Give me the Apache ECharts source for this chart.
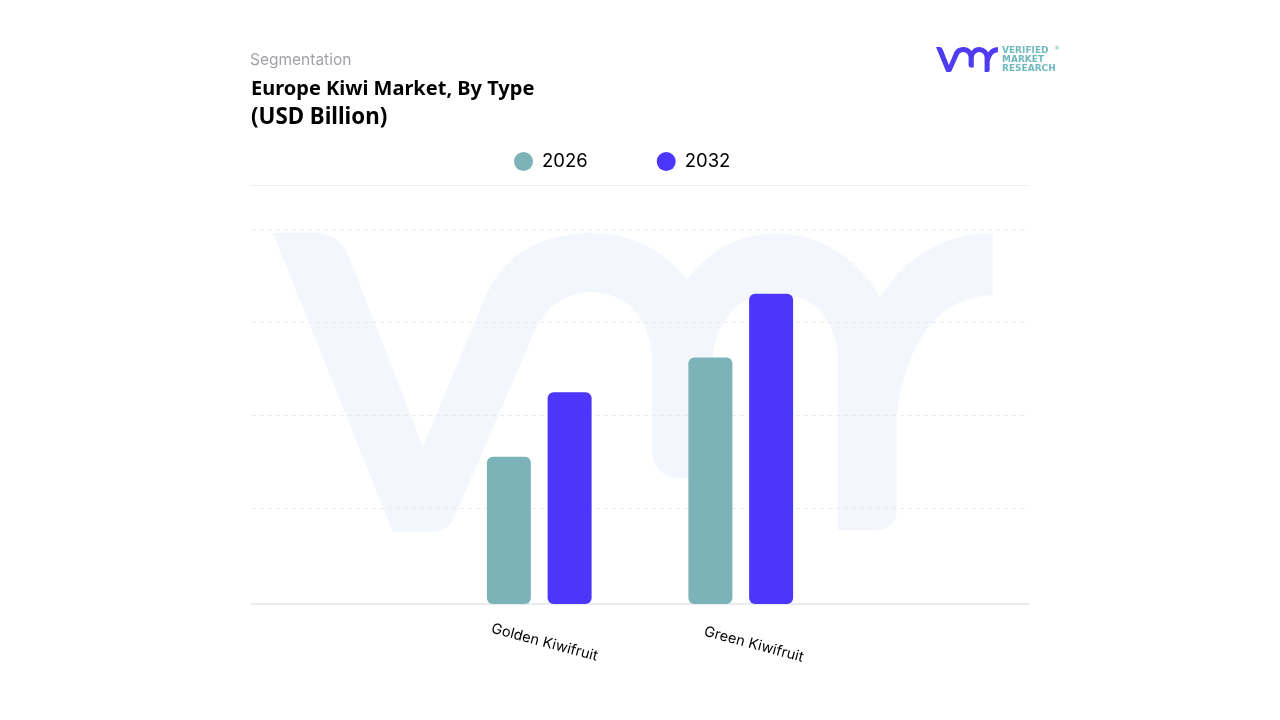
<!DOCTYPE html>
<html>
<head>
<meta charset="utf-8">
<title>Europe Kiwi Market, By Type</title>
<style>
html,body{margin:0;padding:0;background:#fff;}
#J_Main{width:1280px;height:720px;}
</style>
<script src="https://cdn.jsdelivr.net/npm/echarts@6/dist/echarts.min.js"></script>
</head>
<body>
<div id="J_Main"></div>
<script>
var categories = ["Golden Kiwifruit", "Green Kiwifruit"];
var years = ["2026", "2032"];
var values2026 = [1.57, 2.63];
var values2032 = [2.26, 3.31];
var logoLines = ["VERIFIED", "MARKET", "RESEARCH"];

// vmr mark, used big as the watermark and small as the logo
var vmrPath = "M273 233 L318 233 Q342 235 351 262 L423 447 L487 293 Q515 235 590 233 Q650 233 687 280 Q720 235 775 233 Q842 235 880 297 Q920 235 993 233 L993 295 Q925 298 903 382 Q897 400 897 420 L897 508 Q897 530 875 530 L838 530 L838 355 Q832 296 775 292 Q725 296 713 350 L712 478 L680 478 Q652 476 652 450 L652 355 Q645 294 590 292 Q552 294 535 330 L453 520 Q447 532 430 532 L393 532 Z";
echarts.graphic.registerShape("vmrMark", echarts.graphic.extendPath(vmrPath, {}));

var labelStyle = {color: "#000", fontSize: 14.5, fontFamily: "Inter"};

var myChart = echarts.init(document.getElementById("J_Main"));
var option = {
    animation: false,
    backgroundColor: "#fff",
    title: [{
        text: "Segmentation",
        left: 245,
        top: 47,
        textStyle: {color: "#a0a2a8", fontSize: 15.5, fontWeight: "normal", fontFamily: "Inter"}
    }, {
        text: "{a|Europe Kiwi Market, By Type}\n{b|(USD Billion)}",
        left: 246,
        top: 70,
        textStyle: {
            rich: {
                a: {color: "#000", fontSize: 20, fontWeight: "bold", fontFamily: "Noto Sans", lineHeight: 29},
                b: {color: "#000", fontSize: 22.3, fontWeight: "bold", fontFamily: "Noto Sans", lineHeight: 27}
            }
        }
    }],
    legend: {
        left: 514,
        top: 152,
        padding: 0,
        itemWidth: 19,
        itemHeight: 19,
        itemGap: 69,
        icon: "circle",
        data: years,
        textStyle: {color: "#000", fontSize: 18.5, fontFamily: "Inter", padding: [0, 0, 0, 4]}
    },
    grid: [
        {left: 252, width: 777, top: 229, height: 372},
        {left: 438.5, width: 403, top: 229, height: 375},
        {left: 252, width: 777, top: 229, height: 375}
    ],
    xAxis: [{
        gridIndex: 0,
        type: "category",
        data: [],
        axisLine: {show: false},
        axisTick: {show: false},
        axisLabel: {show: false}
    }, {
        gridIndex: 1,
        type: "category",
        data: categories,
        axisLine: {show: false},
        axisTick: {show: false},
        axisLabel: {
            rotate: -15,
            align: "center",
            verticalAlign: "middle",
            margin: 37,
            formatter: function(value, index){
                return "{c" + index + "|" + value + "}";
            },
            // left padding pushes each label along its slant
            rich: {
                c0: Object.assign({padding: [0, 0, 0, 11]}, labelStyle),
                c1: Object.assign({padding: [0, 0, 0, 27]}, labelStyle)
            }
        }
    }, {
        gridIndex: 2,
        type: "category",
        data: [],
        axisLine: {lineStyle: {color: "#e9ecef", width: 2}},
        axisTick: {show: false},
        axisLabel: {show: false}
    }],
    yAxis: [{
        gridIndex: 0,
        type: "value",
        min: 0,
        max: 4,
        interval: 1,
        axisLine: {show: false},
        axisTick: {show: false},
        axisLabel: {show: false},
        splitLine: {
            showMinLine: false,
            lineStyle: {color: "#eaebef", type: [4, 4], width: 1}
        }
    }, {
        gridIndex: 1,
        type: "value",
        min: 0,
        max: 4,
        show: false,
        splitLine: {show: false}
    }, {
        gridIndex: 2,
        type: "value",
        min: 0,
        max: 4,
        show: false,
        splitLine: {show: false}
    }],
    series: [{
        name: years[0],
        type: "bar",
        xAxisIndex: 1,
        yAxisIndex: 1,
        data: values2026,
        barWidth: 44,
        barGap: "38%",
        itemStyle: {color: "#7bb3b8", borderRadius: 6}
    }, {
        name: years[1],
        type: "bar",
        xAxisIndex: 1,
        yAxisIndex: 1,
        data: values2032,
        barWidth: 44,
        itemStyle: {color: "#4c36fc", borderRadius: 6}
    }],
    graphic: [{
        type: "vmrMark",
        z: -10,
        silent: true,
        style: {fill: "#f4f6fd"}
    }, {
        type: "vmrMark",
        silent: true,
        x: 936 - 273 * 0.086,
        y: 47 - 233 * 0.084,
        scaleX: 0.086,
        scaleY: 0.084,
        style: {fill: "#4f3bf0"}
    }, {
        type: "line",
        silent: true,
        shape: {x1: 250, y1: 185.5, x2: 1029, y2: 185.5},
        style: {stroke: "#eeeff2", lineWidth: 1}
    }, {
        type: "text", silent: true, x: 1002, y: 46.5,
        style: {text: logoLines[0], fill: "#6fb9bd", font: "bold 9px 'DejaVu Sans'"}
    }, {
        type: "text", silent: true, x: 1002, y: 55.5,
        style: {text: logoLines[1], fill: "#6fb9bd", font: "bold 9px 'DejaVu Sans'"}
    }, {
        type: "text", silent: true, x: 1002, y: 64.5,
        style: {text: logoLines[2], fill: "#6fb9bd", font: "bold 9px 'DejaVu Sans'"}
    }, {
        type: "text", silent: true, x: 1054, y: 45,
        style: {text: "®", fill: "#6fb9bd", font: "6px 'DejaVu Sans'"}
    }]
};
myChart.setOption(option);
</script>
</body>
</html>
